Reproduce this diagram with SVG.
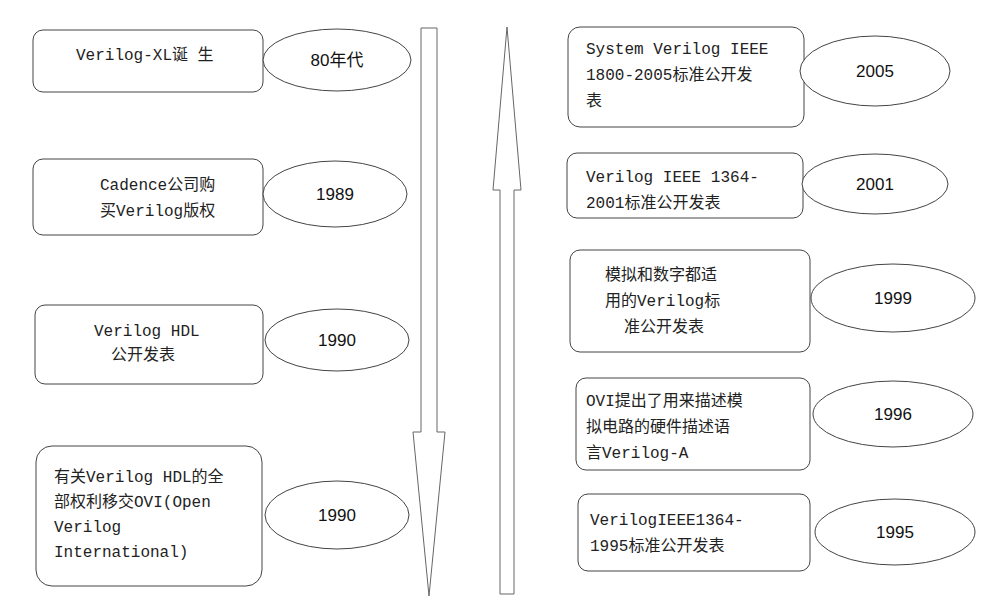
<svg xmlns="http://www.w3.org/2000/svg" width="998" height="614" viewBox="0 0 998 614">
<style>
.b{fill:#fff;stroke:#444;stroke-width:1}
.e{fill:#fff;stroke:#444;stroke-width:1}
.t{font-family:"Liberation Mono","Noto Sans CJK SC",monospace;font-size:16px;fill:#222}
.y{font-family:"Liberation Sans","Noto Sans CJK SC",sans-serif;font-size:17px;fill:#111;text-anchor:middle}
.a{fill:#fff;stroke:#666;stroke-width:1}
</style>
<rect width="998" height="614" fill="#fff"/>
<g id="connectors">
<path class="a" d="M421,28 H437 V432 H445 L429,596 L413,432 H421 Z"/>
<path class="a" d="M507,27 L521,190 H514 V594 H500 V190 H493 Z"/>
</g>
<g id="n1"><rect class="b" x="33" y="30" width="230" height="62" rx="10"/><text class="t" x="76" y="60">Verilog-XL诞 生</text>
<ellipse class="e" cx="337" cy="60" rx="74" ry="31"/><text class="y" x="337" y="66">80年代</text></g>
<g id="n2"><rect class="b" x="33" y="159" width="230" height="76" rx="10"/><text class="t" x="100" y="190">Cadence公司购</text><text class="t" x="100" y="216">买Verilog版权</text>
<ellipse class="e" cx="335" cy="194" rx="72" ry="33"/><text class="y" x="335" y="200">1989</text></g>
<g id="n3"><rect class="b" x="35" y="305" width="228" height="79" rx="10"/><text class="t" x="94" y="336">Verilog HDL</text><text class="t" x="111" y="360">公开发表</text>
<ellipse class="e" cx="337" cy="340" rx="72" ry="31"/><text class="y" x="337" y="346">1990</text></g>
<g id="n4"><rect class="b" x="36" y="446" width="226" height="140" rx="16" stroke="#111" stroke-width="2"/>
<text class="t" x="54" y="482">有关Verilog HDL的全</text><text class="t" x="54" y="507">部权利移交OVI(Open</text><text class="t" x="54" y="532">Verilog</text><text class="t" x="54" y="557">International)</text>
<ellipse class="e" cx="337" cy="515" rx="72" ry="34"/><text class="y" x="337" y="521">1990</text></g>
<g id="n5"><rect class="b" x="568" y="27" width="236" height="100" rx="12"/>
<text class="t" x="586" y="54">System Verilog IEEE</text><text class="t" x="586" y="80">1800-2005标准公开发</text><text class="t" x="586" y="106">表</text>
<ellipse class="e" cx="875" cy="71" rx="75" ry="35"/><text class="y" x="875" y="77">2005</text></g>
<g id="n6"><rect class="b" x="567" y="153" width="236" height="65" rx="10"/>
<text class="t" x="586" y="182">Verilog IEEE 1364-</text><text class="t" x="586" y="208">2001标准公开发表</text>
<ellipse class="e" cx="875" cy="184" rx="73" ry="30"/><text class="y" x="875" y="190">2001</text></g>
<g id="n7"><rect class="b" x="570" y="250" width="240" height="102" rx="10"/>
<text class="t" x="605" y="280">模拟和数字都适</text><text class="t" x="605" y="306">用的Verilog标</text><text class="t" x="624" y="332">准公开发表</text>
<ellipse class="e" cx="893" cy="298" rx="82" ry="34"/><text class="y" x="893" y="304">1999</text></g>
<g id="n8"><rect class="b" x="576" y="378" width="234" height="92" rx="10"/>
<text class="t" x="586" y="406">OVI提出了用来描述模</text><text class="t" x="586" y="432">拟电路的硬件描述语</text><text class="t" x="586" y="458">言Verilog-A</text>
<ellipse class="e" cx="893" cy="414" rx="80" ry="33"/><text class="y" x="893" y="420">1996</text></g>
<g id="n9"><rect class="b" x="578" y="494" width="232" height="77" rx="10"/>
<text class="t" x="590" y="525">VerilogIEEE1364-</text><text class="t" x="590" y="551">1995标准公开发表</text>
<ellipse class="e" cx="895" cy="532" rx="80" ry="33"/><text class="y" x="895" y="538">1995</text></g>
</svg>
